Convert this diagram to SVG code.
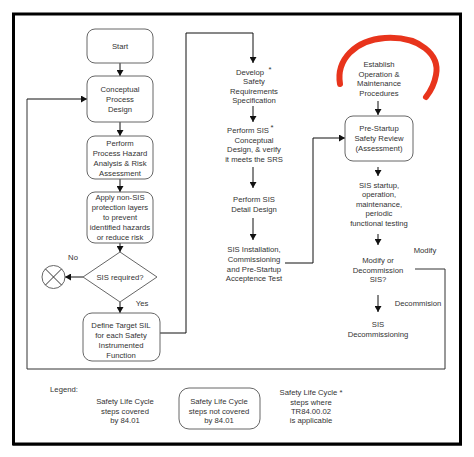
<svg xmlns="http://www.w3.org/2000/svg" width="474" height="457" viewBox="0 0 474 457">
<defs>
<marker id="ah" markerWidth="7" markerHeight="7" refX="6" refY="3.5" orient="auto" markerUnits="userSpaceOnUse">
<path d="M0,0 L6,3.5 L0,7 Z" fill="#111"/>
</marker>
<style>
text{font-family:"Liberation Sans",Arial,sans-serif;font-size:7.7px;fill:#333;text-anchor:middle}
.box{fill:#fff;stroke:#666;stroke-width:1}
.ln{fill:none;stroke:#333;stroke-width:1}
.arr{fill:none;stroke:#111;stroke-width:1;marker-end:url(#ah)}
</style>
</defs>
<rect x="0" y="0" width="474" height="457" fill="#fff"/>
<rect x="13.5" y="14" width="447" height="430" fill="none" stroke="#000" stroke-width="3"/>
<line x1="13" y1="444.5" x2="462" y2="444.5" stroke="#000" stroke-width="2"/>

<g id="connectors">
<line class="arr" x1="120" y1="63" x2="120" y2="76"/>
<line class="arr" x1="120" y1="122" x2="120" y2="136"/>
<line class="arr" x1="120" y1="179" x2="120" y2="192"/>
<line class="arr" x1="120" y1="243" x2="120" y2="252"/>
<line class="arr" x1="83" y1="277" x2="65" y2="277"/>
<line class="arr" x1="120" y1="302" x2="120" y2="313"/>
<polyline class="arr" points="160,333 186,333 186,33 253,33 253,63"/>
<line class="arr" x1="253" y1="106" x2="253" y2="122"/>
<line class="arr" x1="253" y1="167" x2="253" y2="188"/>
<line class="arr" x1="253" y1="218" x2="253" y2="240"/>
<polyline class="arr" points="285,263 313,263 313,138 345,138"/>
<line class="arr" x1="378" y1="101" x2="378" y2="115"/>
<line class="arr" x1="378" y1="167" x2="378" y2="176"/>
<line class="arr" x1="378" y1="234" x2="378" y2="245"/>
<line class="arr" x1="378" y1="295" x2="378" y2="312"/>
<polyline class="ln" points="415,269 445,269 445,369 27,369 27,99"/>
<line class="arr" x1="27" y1="99" x2="87" y2="99"/>
</g>

<g id="start"><rect class="box" x="87" y="29" width="66" height="34" rx="8"/><text x="120" y="49">Start</text></g>
<g id="conceptual"><rect class="box" x="87" y="76" width="66" height="46" rx="8"/>
<text x="120" y="92">Conceptual</text><text x="120" y="102">Process</text><text x="120" y="112">Design</text></g>
<g id="hazard"><rect class="box" x="87" y="136" width="66" height="43" rx="8"/>
<text x="120" y="146">Perform</text><text x="120" y="156">Process Hazard</text><text x="120" y="166">Analysis &amp; Risk</text><text x="120" y="176">Assessment</text></g>
<g id="nonsis"><rect class="box" x="87" y="192" width="66" height="51" rx="8"/>
<text x="120" y="200">Apply non-SIS</text><text x="120" y="210">protection layers</text><text x="120" y="220">to prevent</text><text x="120" y="230">identified hazards</text><text x="120" y="240">or reduce risk</text></g>
<g id="decision"><polygon class="box" points="120,252 157,277 120,302 83,277"/><text x="120" y="280">SIS required?</text>
<text x="73" y="260">No</text><text x="142" y="306">Yes</text></g>
<g id="stop"><circle class="box" cx="53.5" cy="277" r="11.5"/><path class="ln" d="M45.4,268.9 L61.6,285.1 M61.6,268.9 L45.4,285.1"/></g>
<g id="sil"><rect class="box" x="83" y="313" width="77" height="48" rx="9"/>
<text x="121" y="328">Define Target SIL</text><text x="121" y="338">for each Safety</text><text x="121" y="348">Instrumented</text><text x="121" y="358">Function</text></g>

<g id="srs"><text x="250" y="75">Develop</text><text x="270" y="72">*</text>
<text x="254" y="84">Safety</text><text x="254" y="94">Requirements</text><text x="254" y="103">Specification</text></g>
<g id="sisconcept"><text x="248" y="133">Perform SIS</text><text x="272" y="130">*</text>
<text x="254" y="143">Conceptual</text><text x="254" y="152">Design, &amp; verify</text><text x="254" y="162">it meets the SRS</text></g>
<g id="detail"><text x="254" y="202">Perform SIS</text><text x="254" y="212">Detail Design</text></g>
<g id="install"><text x="254" y="252">SIS Installation,</text><text x="254" y="262">Commissioning</text><text x="254" y="272">and Pre-Startup</text><text x="254" y="281">Acceptence Test</text></g>

<g id="establish"><text x="379" y="67">Establish</text><text x="379" y="77">Operation &amp;</text><text x="379" y="86">Maintenance</text><text x="379" y="96">Procedures</text></g>
<path d="M340,84 C336,60 355,40 385,38 C420,36 440,55 436,75 C434,86 430,92 426,97" fill="none" stroke="#e8341c" stroke-width="6" stroke-linecap="round"/>
<g id="prestartup"><rect class="box" x="345" y="116" width="68" height="45" rx="8"/>
<text x="379" y="131">Pre-Startup</text><text x="379" y="141">Safety Review</text><text x="379" y="151">(Assessment)</text></g>
<g id="operation"><text x="379" y="188">SIS startup,</text><text x="379" y="197">operation,</text><text x="379" y="207">maintenance,</text><text x="379" y="216">periodic</text><text x="379" y="226">functional testing</text></g>
<g id="modify"><text x="378" y="263">Modify or</text><text x="378" y="273">Decommission</text><text x="378" y="282">SIS?</text>
<text x="425" y="253">Modify</text><text x="418" y="306">Decommision</text></g>
<g id="decom"><text x="378" y="327">SIS</text><text x="378" y="337">Decommissioning</text></g>

<g id="legend">
<text x="64" y="392">Legend:</text>
<text x="125" y="404">Safety Life Cycle</text><text x="125" y="414">steps covered</text><text x="125" y="423">by 84.01</text>
<rect class="box" x="179" y="388" width="81" height="41" rx="10"/>
<text x="219" y="404">Safety Life Cycle</text><text x="219" y="414">steps not covered</text><text x="219" y="423">by 84.01</text>
<text x="311" y="395">Safety Life Cycle *</text><text x="311" y="405">steps where</text><text x="311" y="414">TR84.00.02</text><text x="311" y="423">is applicable</text>
</g>
</svg>
